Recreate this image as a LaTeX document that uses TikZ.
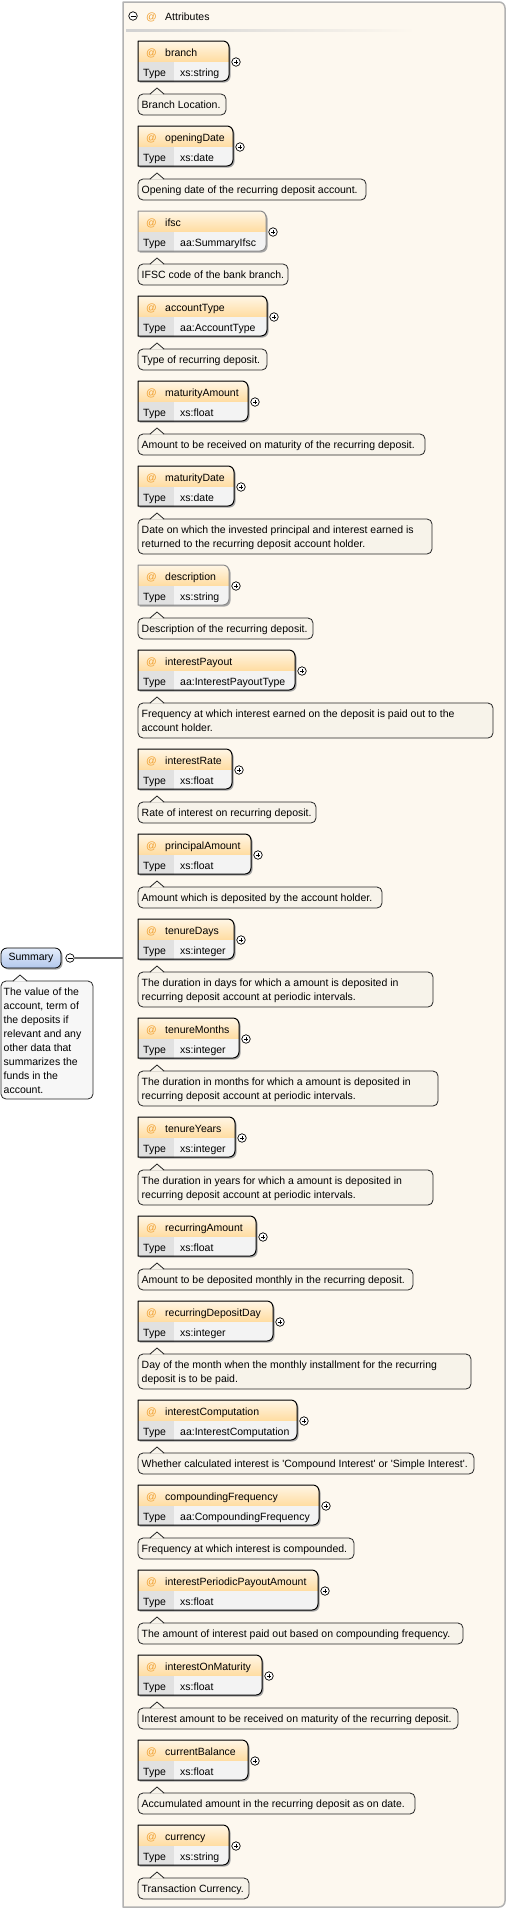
\documentclass[tikz,border=0pt]{standalone}
\usepackage{fontspec}
\setmainfont{Liberation Sans}
\definecolor{cream}{HTML}{FDF8EF}
\definecolor{framec}{HTML}{B2B2B2}
\definecolor{hdtop}{HTML}{FFF6E6}
\definecolor{hdbot}{HTML}{FFDCA0}
\definecolor{atc}{HTML}{F0A030}
\definecolor{typecell}{HTML}{E1E1E1}
\definecolor{valcell}{HTML}{F3F3F3}
\definecolor{notefill}{HTML}{F7F3EA}
\definecolor{sumtop}{HTML}{E4EDFB}
\definecolor{sumbot}{HTML}{B2C7EC}
\newcommand\boxpath[4]{(#1,#2) -- (#3-6,#2) arc[start angle=-90,end angle=0,radius=6] -- (#3,#4-6) arc[start angle=0,end angle=90,radius=6] -- (#1,#4) -- cycle}
\begin{document}
\begin{tikzpicture}[x=1pt, y=-1pt, line join=round, font=\fontsize{10.5}{14}\selectfont,
  txt/.style={inner sep=0pt, anchor=base west},
  btn/.style={circle, draw, fill=white, inner sep=0pt, minimum size=8.5pt, line width=0.7pt},
  plusbtn/.style={btn, path picture={\draw[line width=0.7pt] (path picture bounding box.center) ++(-2pt,0) -- ++(4pt,0) ++(-2pt,-2pt) -- ++(0,4pt);}},
  minusbtn/.style={btn, path picture={\draw[line width=0.7pt] (path picture bounding box.center) ++(-2.5pt,0) -- ++(5pt,0);}},
  notebox/.style={draw=black!85, fill=notefill, line width=0.8pt, rounded corners=5},
  sumbox/.style={draw, line width=0.8pt, rounded corners=6, top color=sumtop, bottom color=sumbot, minimum width=60, minimum height=20, inner sep=0pt},
  link/.style={draw=black!55, line width=2pt}]
 \useasboundingbox (0,0) rectangle (524,1909);
 \fill[white] (0,0) rectangle (524,1909);
 \draw[draw=framec, fill=cream, line width=1.5pt] \boxpath{123}{2}{505}{1907};
 \shade[left color=black!18, right color=cream] (126,29.5) rectangle (415,31);
 \node[minusbtn] (attrmin) at (133,16) {};
 \node[txt, text=atc] (attrat) at (146,20) {@};
 \node[txt] (attrs) at (165,20) {Attributes};
 \foreach \nm/\ty/\t/\r/\dr/\dn/\bd/\dt [count=\i] in {
  branch/xs:string/41/229/226/1/black/{Branch Location.},
  openingDate/xs:date/126/233/366/1/black/{Opening date of the recurring deposit account.},
  ifsc/aa:SummaryIfsc/211/266/288/1/black!45/{IFSC code of the bank branch.},
  accountType/aa:AccountType/296/267/267/1/black/{Type of recurring deposit.},
  maturityAmount/xs:float/381/248/425/1/black/{Amount to be received on maturity of the recurring deposit.},
  maturityDate/xs:date/466/234/432/2/black/{Date on which the invested principal and interest earned is\\returned to the recurring deposit account holder.},
  description/xs:string/565/229/313/1/black!45/{Description of the recurring deposit.},
  interestPayout/aa:InterestPayoutType/650/295/493/2/black/{Frequency at which interest earned on the deposit is paid out to the\\account holder.},
  interestRate/xs:float/749/232/316/1/black/{Rate of interest on recurring deposit.},
  principalAmount/xs:float/834/251/382/1/black/{Amount which is deposited by the account holder.},
  tenureDays/xs:integer/919/234/433/2/black/{The duration in days for which a amount is deposited in\\recurring deposit account at periodic intervals.},
  tenureMonths/xs:integer/1018/239/438/2/black/{The duration in months for which a amount is deposited in\\recurring deposit account at periodic intervals.},
  tenureYears/xs:integer/1117/235/433/2/black/{The duration in years for which a amount is deposited in\\recurring deposit account at periodic intervals.},
  recurringAmount/xs:float/1216/256/413/1/black/{Amount to be deposited monthly in the recurring deposit.},
  recurringDepositDay/xs:integer/1301/273/471/2/black/{Day of the month when the monthly installment for the recurring\\deposit is to be paid.},
  interestComputation/aa:InterestComputation/1400/297/474/1/black/{Whether calculated interest is \textquotesingle Compound Interest\textquotesingle\ or \textquotesingle Simple Interest\textquotesingle.},
  compoundingFrequency/aa:CompoundingFrequency/1485/319/354/1/black/{Frequency at which interest is compounded.},
  interestPeriodicPayoutAmount/xs:float/1570/318/463/1/black/{The amount of interest paid out based on compounding frequency.},
  interestOnMaturity/xs:float/1655/262/458/1/black/{Interest amount to be received on maturity of the recurring deposit.},
  currentBalance/xs:float/1740/248/415/1/black/{Accumulated amount in the recurring deposit as on date.},
  currency/xs:string/1825/229/249/1/black/{Transaction Currency.}}{
  \fill[black!35, shift={(1.5,1.5)}] \boxpath{138}{\t}{\r}{\t+40};
  \shade[top color=hdtop, bottom color=hdbot] (138,\t) -- (\r-6,\t) arc[start angle=-90,end angle=0,radius=6] -- (\r,\t+21) -- (138,\t+21) -- cycle;
  \fill[typecell] (138,\t+21) rectangle (174,\t+40);
  \fill[valcell] (174,\t+21) -- (\r,\t+21) -- (\r,\t+34) arc[start angle=0,end angle=90,radius=6] -- (174,\t+40) -- cycle;
  \draw[draw=\bd, line width=1pt] \boxpath{138}{\t}{\r}{\t+40};
  \node[txt, text=atc] (at\i) at (146,\t+15) {@};
  \node[txt] (nm\i) at (165,\t+15) {\nm};
  \node[txt] (ty\i) at (143,\t+35) {Type};
  \node[txt] (val\i) at (180,\t+35) {\ty};
  \node[plusbtn] (px\i) at (\r+7,\t+21) {};
  \draw[notebox] (138,\t+53) rectangle (\dr,\t+60+14*\dn);
  \fill[notefill] (150.5,\t+53.6) -- (157,\t+47) -- (163.5,\t+53.6) -- cycle;
  \draw[line width=0.8pt, black!85] (150,\t+53) -- (157,\t+47) -- (164,\t+53);
  \node[txt, anchor=north west, align=left] (doc\i) at (141.5,\t+59.5) {\dt};
 }
 \fill[black!35, rounded corners=6] (2.5,949.5) rectangle (62.5,969.5);
 \node[sumbox] (summary) at (31,958) {Summary};
 \node[minusbtn] (summin) at (70,958) {};
 \coordinate (attrin) at (123,958);
 \draw[link] (summin) -- (attrin);
 \draw[draw=black!85, fill=black!3, line width=0.8pt, rounded corners=5] (1,981) rectangle (93,1099);
 \fill[black!3] (13.5,981.6) -- (20,975) -- (26.5,981.6) -- cycle;
 \draw[line width=0.8pt, black!85] (13,981) -- (20,975) -- (27,981);
 \node[txt, anchor=north west, align=left] (sumdoc) at (3.5,988) {The value of the\\account, term of\\the deposits if\\relevant and any\\other data that\\summarizes the\\funds in the\\account.};
\end{tikzpicture}
\end{document}
